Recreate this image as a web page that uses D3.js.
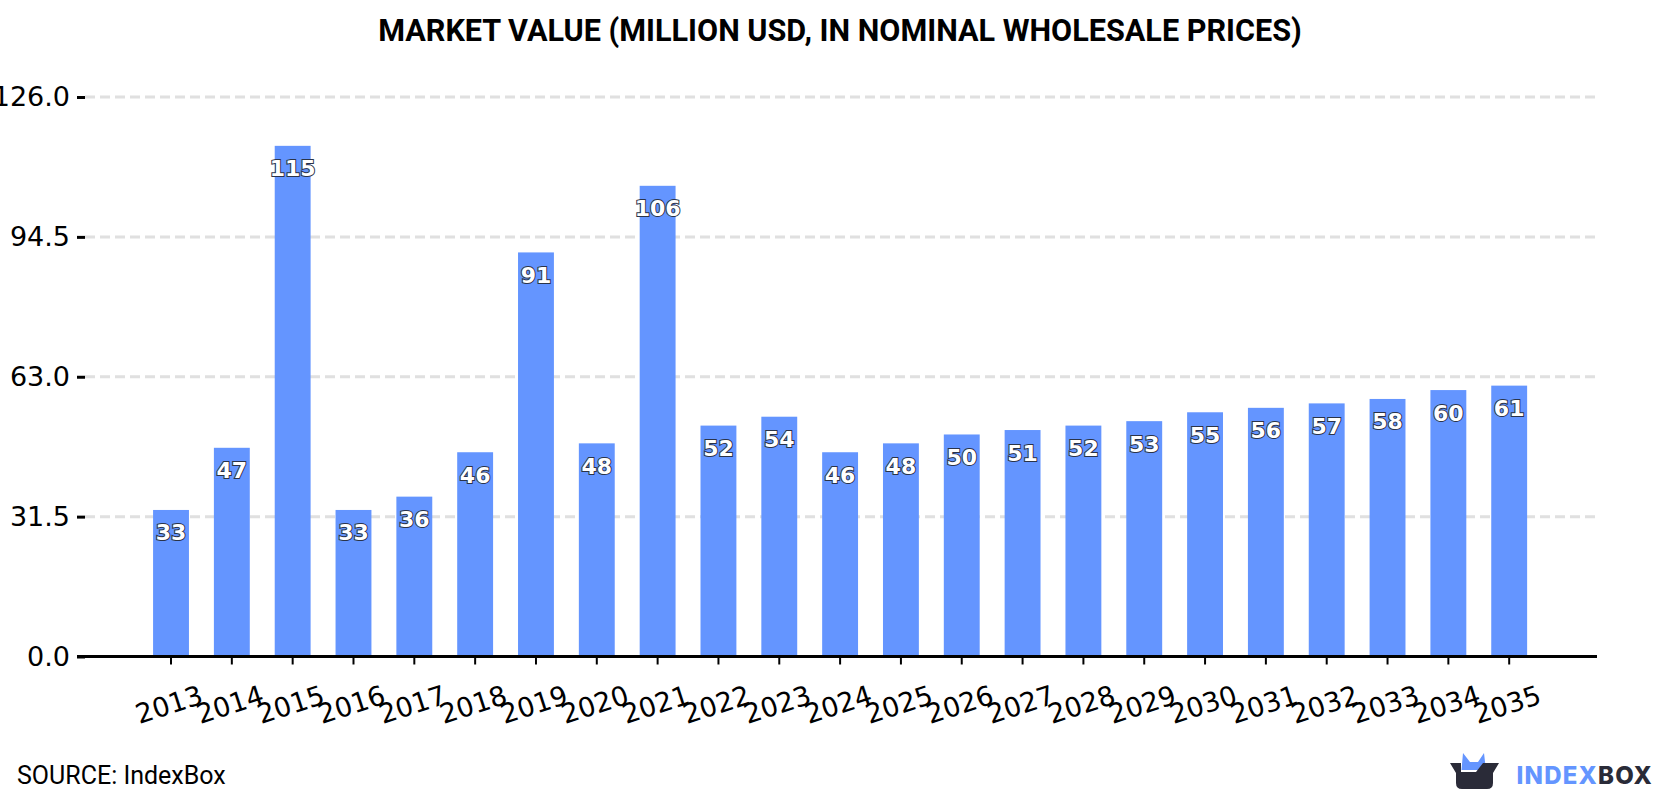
<!DOCTYPE html>
<html>
<head>
<meta charset="utf-8">
<script src="https://cdn.jsdelivr.net/npm/d3@7/dist/d3.min.js"></script>
<style>
html,body{margin:0;padding:0;background:#fff;overflow:hidden}
svg{display:block}
</style>
</head>
<body>
<svg id="chart" width="1680" height="800"></svg>
<script>
const years = ["2013","2014","2015","2016","2017","2018","2019","2020","2021","2022","2023","2024","2025","2026","2027","2028","2029","2030","2031","2032","2033","2034","2035"];
const marketValue = [33,47,115,33,36,46,91,48,106,52,54,46,48,50,51,52,53,55,56,57,58,60,61];
const yTicks = [0,31.5,63,94.5,126];

const svg = d3.select("#chart");
const axisLeft = 85, axisRight = 1597, baseY = 656.5, topY = 97;

const x = d3.scaleBand().domain(years).range([140.6,1539.6]).paddingInner(0.41).paddingOuter(0.205);
const y = d3.scaleLinear().domain([0,126]).range([baseY,topY]);

svg.append("text").attr("x",840).attr("y",41).attr("text-anchor","middle")
  .style("font","700 30.6px Roboto").style("fill","#000")
  .text("MARKET VALUE (MILLION USD, IN NOMINAL WHOLESALE PRICES)");

// dashed gridlines behind the bars
svg.append("g").selectAll("line").data(yTicks.filter(d=>d>0)).join("line")
  .attr("x1",axisLeft).attr("x2",axisRight)
  .attr("y1",d=>y(d)).attr("y2",d=>y(d))
  .attr("stroke","#e0e0e0").attr("stroke-width",3).attr("stroke-dasharray","10 5");

svg.append("g").selectAll("rect").data(years).join("rect")
  .attr("x",d=>x(d)).attr("width",x.bandwidth())
  .attr("y",(d,i)=>y(marketValue[i]))
  .attr("height",(d,i)=>baseY-y(marketValue[i]))
  .attr("fill","#6495ff");

// y axis: short ticks and labels
const yAxis = d3.axisLeft(y).tickValues(yTicks).tickFormat(d3.format(".1f")).tickSize(8).tickPadding(7);
const gy = svg.append("g").attr("transform",`translate(${axisLeft},0)`).call(yAxis);
gy.select(".domain").remove();
gy.selectAll("line").attr("stroke","#000").attr("stroke-width",3);
gy.selectAll("text").style("font","27px 'DejaVu Sans'").style("fill","#000");

// x axis: baseline, ticks, slanted year labels
const xAxis = d3.axisBottom(x).tickSize(8).tickSizeOuter(0).tickFormat("");
const gx = svg.append("g").attr("transform",`translate(0,${baseY})`).call(xAxis);
gx.select(".domain").remove();
gx.selectAll("line").attr("stroke","#000").attr("stroke-width",2);
svg.append("line").attr("x1",axisLeft-8).attr("x2",axisRight).attr("y1",baseY).attr("y2",baseY)
  .attr("stroke","#000").attr("stroke-width",3);
svg.append("g").selectAll("text").data(years).join("text")
  .attr("transform",d=>`translate(${x(d)+x.bandwidth()/2+1},${baseY+57}) rotate(-18)`)
  .attr("text-anchor","middle")
  .style("font","27px 'DejaVu Sans'").style("fill","#000")
  .text(d=>d);

// value labels inside the bars
svg.append("g").selectAll("text").data(years).join("text")
  .attr("x",d=>x(d)+x.bandwidth()/2)
  .attr("y",(d,i)=>y(marketValue[i])+30.5)
  .attr("text-anchor","middle")
  .style("font","700 22px 'DejaVu Sans'")
  .style("fill","#fff").style("stroke","#2a3348").style("stroke-width",2)
  .style("paint-order","stroke")
  .text((d,i)=>marketValue[i]);

svg.append("text").attr("x",17).attr("y",784)
  .style("font","25px Roboto").style("fill","#000").text("SOURCE: IndexBox");

// IndexBox logo
const logo = svg.append("g");
logo.append("path").attr("d","M1461.5 770 L1463 753 L1470 762 L1478 762 L1484 753 L1486 770 Z").attr("fill","#6495ff");
logo.append("path").attr("d","M1450 763 L1461 763 L1461 772 L1476 772 L1483 763 L1499 763 L1493 773 L1493 783 Q1493 789 1487 789 L1462 789 Q1456 789 1456 783 L1456 773 Z").attr("fill","#2a2b38");
const brand = svg.append("text").attr("x",1516.5).attr("y",784).style("font","800 24px Inter").style("letter-spacing","1.2px");
brand.append("tspan").attr("fill","#6495ff").text("INDEX");
brand.append("tspan").attr("fill","#2a2b38").text("BOX");
</script>
</body>
</html>
